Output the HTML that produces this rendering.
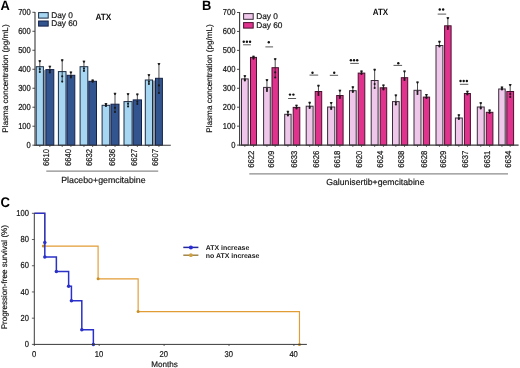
<!DOCTYPE html>
<html><head><meta charset="utf-8"><title>Figure</title>
<style>
html,body{margin:0;padding:0;background:#fff;}
body{width:520px;height:368px;overflow:hidden;}
svg{display:block;font-family:"Liberation Sans", sans-serif;will-change:transform;text-rendering:geometricPrecision;}
</style></head>
<body>
<svg width="520" height="368" viewBox="0 0 520 368">
<rect x="0" y="0" width="520" height="368" fill="#fff"/>
<text font-size="12.9" text-anchor="start" font-weight="bold" fill="#000" transform="translate(0.50 9.90) scale(1.0 1.05)">A</text>
<text font-size="12.9" text-anchor="start" font-weight="bold" fill="#000" transform="translate(202.00 9.90) scale(1.0 1.05)">B</text>
<text font-size="13.1" text-anchor="start" font-weight="bold" fill="#000" transform="translate(0.50 207.40) scale(1.0 1.07)">C</text>
<line x1="32.40" y1="145.20" x2="35.00" y2="145.20" stroke="#3a3a3a" stroke-width="0.9"/>
<text font-size="7.6" text-anchor="end" fill="#151515" stroke="#151515" stroke-width="0.18" transform="translate(30.80 147.90) scale(1.0 1.15)">0</text>
<line x1="32.40" y1="126.21" x2="35.00" y2="126.21" stroke="#3a3a3a" stroke-width="0.9"/>
<text font-size="7.6" text-anchor="end" fill="#151515" stroke="#151515" stroke-width="0.18" transform="translate(30.80 128.91) scale(1.0 1.15)">100</text>
<line x1="32.40" y1="107.23" x2="35.00" y2="107.23" stroke="#3a3a3a" stroke-width="0.9"/>
<text font-size="7.6" text-anchor="end" fill="#151515" stroke="#151515" stroke-width="0.18" transform="translate(30.80 109.93) scale(1.0 1.15)">200</text>
<line x1="32.40" y1="88.24" x2="35.00" y2="88.24" stroke="#3a3a3a" stroke-width="0.9"/>
<text font-size="7.6" text-anchor="end" fill="#151515" stroke="#151515" stroke-width="0.18" transform="translate(30.80 90.94) scale(1.0 1.15)">300</text>
<line x1="32.40" y1="69.26" x2="35.00" y2="69.26" stroke="#3a3a3a" stroke-width="0.9"/>
<text font-size="7.6" text-anchor="end" fill="#151515" stroke="#151515" stroke-width="0.18" transform="translate(30.80 71.96) scale(1.0 1.15)">400</text>
<line x1="32.40" y1="50.27" x2="35.00" y2="50.27" stroke="#3a3a3a" stroke-width="0.9"/>
<text font-size="7.6" text-anchor="end" fill="#151515" stroke="#151515" stroke-width="0.18" transform="translate(30.80 52.97) scale(1.0 1.15)">500</text>
<line x1="32.40" y1="31.29" x2="35.00" y2="31.29" stroke="#3a3a3a" stroke-width="0.9"/>
<text font-size="7.6" text-anchor="end" fill="#151515" stroke="#151515" stroke-width="0.18" transform="translate(30.80 33.99) scale(1.0 1.15)">600</text>
<line x1="32.40" y1="12.30" x2="35.00" y2="12.30" stroke="#3a3a3a" stroke-width="0.9"/>
<text font-size="7.6" text-anchor="end" fill="#151515" stroke="#151515" stroke-width="0.18" transform="translate(30.80 15.00) scale(1.0 1.15)">700</text>
<rect x="43.90" y="70.10" width="1.50" height="75.10" fill="#8a979e"/>
<rect x="36.20" y="66.70" width="7.20" height="78.50" fill="#a6d6f2" stroke="#1c2c44" stroke-width="1.0"/>
<rect x="45.90" y="69.60" width="7.90" height="75.60" fill="#33558f" stroke="#14224a" stroke-width="1.0"/>
<line x1="39.80" y1="60.70" x2="39.80" y2="72.00" stroke="#222" stroke-width="0.8"/>
<line x1="38.50" y1="60.70" x2="41.10" y2="60.70" stroke="#222" stroke-width="0.8"/>
<circle cx="39.80" cy="61.30" r="1.05" fill="#1a1a1a"/>
<circle cx="39.80" cy="69.10" r="1.05" fill="#1a1a1a"/>
<circle cx="39.80" cy="72.00" r="1.05" fill="#1a1a1a"/>
<line x1="39.80" y1="145.20" x2="39.80" y2="147.00" stroke="#3a3a3a" stroke-width="0.8"/>
<line x1="49.85" y1="66.20" x2="49.85" y2="72.50" stroke="#222" stroke-width="0.8"/>
<line x1="48.55" y1="66.20" x2="51.15" y2="66.20" stroke="#222" stroke-width="0.8"/>
<circle cx="49.85" cy="66.80" r="1.05" fill="#1a1a1a"/>
<circle cx="49.85" cy="70.80" r="1.05" fill="#1a1a1a"/>
<circle cx="49.85" cy="72.50" r="1.05" fill="#1a1a1a"/>
<line x1="49.85" y1="145.20" x2="49.85" y2="147.00" stroke="#3a3a3a" stroke-width="0.8"/>
<text font-size="7.7" text-anchor="end" fill="#151515" stroke="#151515" stroke-width="0.18" transform="translate(48.70 148.90) rotate(-90) scale(1.0 1.1)">6610</text>
<rect x="66.50" y="75.80" width="0.00" height="69.40" fill="#8a979e"/>
<rect x="58.40" y="71.60" width="7.60" height="73.60" fill="#a6d6f2" stroke="#1c2c44" stroke-width="1.0"/>
<rect x="67.00" y="75.30" width="7.80" height="69.90" fill="#33558f" stroke="#14224a" stroke-width="1.0"/>
<line x1="62.20" y1="59.80" x2="62.20" y2="81.60" stroke="#222" stroke-width="0.8"/>
<line x1="60.90" y1="59.80" x2="63.50" y2="59.80" stroke="#222" stroke-width="0.8"/>
<circle cx="62.20" cy="60.40" r="1.05" fill="#1a1a1a"/>
<circle cx="62.20" cy="76.35" r="1.05" fill="#1a1a1a"/>
<circle cx="62.20" cy="81.60" r="1.05" fill="#1a1a1a"/>
<line x1="62.20" y1="145.20" x2="62.20" y2="147.00" stroke="#3a3a3a" stroke-width="0.8"/>
<line x1="70.90" y1="72.00" x2="70.90" y2="77.50" stroke="#222" stroke-width="0.8"/>
<line x1="69.60" y1="72.00" x2="72.20" y2="72.00" stroke="#222" stroke-width="0.8"/>
<circle cx="70.90" cy="72.60" r="1.05" fill="#1a1a1a"/>
<circle cx="70.90" cy="76.15" r="1.05" fill="#1a1a1a"/>
<circle cx="70.90" cy="77.50" r="1.05" fill="#1a1a1a"/>
<line x1="70.90" y1="145.20" x2="70.90" y2="147.00" stroke="#3a3a3a" stroke-width="0.8"/>
<text font-size="7.7" text-anchor="end" fill="#151515" stroke="#151515" stroke-width="0.18" transform="translate(71.30 148.90) rotate(-90) scale(1.0 1.1)">6640</text>
<rect x="88.30" y="81.80" width="0.00" height="63.40" fill="#8a979e"/>
<rect x="80.10" y="66.70" width="7.70" height="78.50" fill="#a6d6f2" stroke="#1c2c44" stroke-width="1.0"/>
<rect x="88.80" y="81.30" width="7.70" height="63.90" fill="#33558f" stroke="#14224a" stroke-width="1.0"/>
<line x1="83.95" y1="61.10" x2="83.95" y2="70.90" stroke="#222" stroke-width="0.8"/>
<line x1="82.65" y1="61.10" x2="85.25" y2="61.10" stroke="#222" stroke-width="0.8"/>
<circle cx="83.95" cy="61.70" r="1.05" fill="#1a1a1a"/>
<circle cx="83.95" cy="68.55" r="1.05" fill="#1a1a1a"/>
<circle cx="83.95" cy="70.90" r="1.05" fill="#1a1a1a"/>
<line x1="83.95" y1="145.20" x2="83.95" y2="147.00" stroke="#3a3a3a" stroke-width="0.8"/>
<line x1="92.65" y1="80.00" x2="92.65" y2="81.80" stroke="#222" stroke-width="0.8"/>
<line x1="91.35" y1="80.00" x2="93.95" y2="80.00" stroke="#222" stroke-width="0.8"/>
<circle cx="92.65" cy="80.60" r="1.05" fill="#1a1a1a"/>
<circle cx="92.65" cy="81.30" r="1.05" fill="#1a1a1a"/>
<circle cx="92.65" cy="81.80" r="1.05" fill="#1a1a1a"/>
<line x1="92.65" y1="145.20" x2="92.65" y2="147.00" stroke="#3a3a3a" stroke-width="0.8"/>
<text font-size="7.7" text-anchor="end" fill="#151515" stroke="#151515" stroke-width="0.18" transform="translate(92.30 148.90) rotate(-90) scale(1.0 1.1)">6632</text>
<rect x="110.30" y="105.80" width="0.20" height="39.40" fill="#8a979e"/>
<rect x="102.10" y="105.30" width="7.70" height="39.90" fill="#a6d6f2" stroke="#1c2c44" stroke-width="1.0"/>
<rect x="111.00" y="104.20" width="8.00" height="41.00" fill="#33558f" stroke="#14224a" stroke-width="1.0"/>
<line x1="105.95" y1="103.50" x2="105.95" y2="106.00" stroke="#222" stroke-width="0.8"/>
<line x1="104.65" y1="103.50" x2="107.25" y2="103.50" stroke="#222" stroke-width="0.8"/>
<circle cx="105.95" cy="104.10" r="1.05" fill="#1a1a1a"/>
<circle cx="105.95" cy="105.40" r="1.05" fill="#1a1a1a"/>
<circle cx="105.95" cy="106.00" r="1.05" fill="#1a1a1a"/>
<line x1="105.95" y1="145.20" x2="105.95" y2="147.00" stroke="#3a3a3a" stroke-width="0.8"/>
<line x1="115.00" y1="93.30" x2="115.00" y2="112.00" stroke="#222" stroke-width="0.8"/>
<line x1="113.70" y1="93.30" x2="116.30" y2="93.30" stroke="#222" stroke-width="0.8"/>
<circle cx="115.00" cy="93.90" r="1.05" fill="#1a1a1a"/>
<circle cx="115.00" cy="107.85" r="1.05" fill="#1a1a1a"/>
<circle cx="115.00" cy="112.00" r="1.05" fill="#1a1a1a"/>
<line x1="115.00" y1="145.20" x2="115.00" y2="147.00" stroke="#3a3a3a" stroke-width="0.8"/>
<text font-size="7.7" text-anchor="end" fill="#151515" stroke="#151515" stroke-width="0.18" transform="translate(115.40 148.90) rotate(-90) scale(1.0 1.1)">6636</text>
<rect x="132.60" y="102.10" width="0.10" height="43.10" fill="#8a979e"/>
<rect x="124.00" y="101.60" width="8.10" height="43.60" fill="#a6d6f2" stroke="#1c2c44" stroke-width="1.0"/>
<rect x="133.20" y="99.90" width="8.30" height="45.30" fill="#33558f" stroke="#14224a" stroke-width="1.0"/>
<line x1="128.05" y1="93.60" x2="128.05" y2="106.50" stroke="#222" stroke-width="0.8"/>
<line x1="126.75" y1="93.60" x2="129.35" y2="93.60" stroke="#222" stroke-width="0.8"/>
<circle cx="128.05" cy="94.20" r="1.05" fill="#1a1a1a"/>
<circle cx="128.05" cy="103.80" r="1.05" fill="#1a1a1a"/>
<circle cx="128.05" cy="106.50" r="1.05" fill="#1a1a1a"/>
<line x1="128.05" y1="145.20" x2="128.05" y2="147.00" stroke="#3a3a3a" stroke-width="0.8"/>
<line x1="137.35" y1="94.00" x2="137.35" y2="104.00" stroke="#222" stroke-width="0.8"/>
<line x1="136.05" y1="94.00" x2="138.65" y2="94.00" stroke="#222" stroke-width="0.8"/>
<circle cx="137.35" cy="94.60" r="1.05" fill="#1a1a1a"/>
<circle cx="137.35" cy="101.70" r="1.05" fill="#1a1a1a"/>
<circle cx="137.35" cy="104.00" r="1.05" fill="#1a1a1a"/>
<line x1="137.35" y1="145.20" x2="137.35" y2="147.00" stroke="#3a3a3a" stroke-width="0.8"/>
<text font-size="7.7" text-anchor="end" fill="#151515" stroke="#151515" stroke-width="0.18" transform="translate(136.80 148.90) rotate(-90) scale(1.0 1.1)">6627</text>
<rect x="153.00" y="80.50" width="2.00" height="64.70" fill="#8a979e"/>
<rect x="145.30" y="80.00" width="7.20" height="65.20" fill="#a6d6f2" stroke="#1c2c44" stroke-width="1.0"/>
<rect x="155.50" y="78.30" width="6.90" height="66.90" fill="#33558f" stroke="#14224a" stroke-width="1.0"/>
<line x1="148.90" y1="74.60" x2="148.90" y2="84.00" stroke="#222" stroke-width="0.8"/>
<line x1="147.60" y1="74.60" x2="150.20" y2="74.60" stroke="#222" stroke-width="0.8"/>
<circle cx="148.90" cy="75.20" r="1.05" fill="#1a1a1a"/>
<circle cx="148.90" cy="81.75" r="1.05" fill="#1a1a1a"/>
<circle cx="148.90" cy="84.00" r="1.05" fill="#1a1a1a"/>
<line x1="148.90" y1="145.20" x2="148.90" y2="147.00" stroke="#3a3a3a" stroke-width="0.8"/>
<line x1="158.95" y1="63.50" x2="158.95" y2="93.00" stroke="#222" stroke-width="0.8"/>
<line x1="157.65" y1="63.50" x2="160.25" y2="63.50" stroke="#222" stroke-width="0.8"/>
<circle cx="158.95" cy="64.10" r="1.05" fill="#1a1a1a"/>
<circle cx="158.95" cy="85.40" r="1.05" fill="#1a1a1a"/>
<circle cx="158.95" cy="93.00" r="1.05" fill="#1a1a1a"/>
<line x1="158.95" y1="145.20" x2="158.95" y2="147.00" stroke="#3a3a3a" stroke-width="0.8"/>
<text font-size="7.7" text-anchor="end" fill="#151515" stroke="#151515" stroke-width="0.18" transform="translate(158.10 148.90) rotate(-90) scale(1.0 1.1)">6607</text>
<line x1="35.00" y1="11.90" x2="35.00" y2="145.70" stroke="#3a3a3a" stroke-width="1.1"/>
<line x1="34.50" y1="145.20" x2="170.80" y2="145.20" stroke="#3a3a3a" stroke-width="1.1"/>
<line x1="237.00" y1="145.10" x2="239.60" y2="145.10" stroke="#3a3a3a" stroke-width="0.9"/>
<text font-size="7.6" text-anchor="end" fill="#151515" stroke="#151515" stroke-width="0.18" transform="translate(235.40 147.80) scale(1.0 1.15)">0</text>
<line x1="237.00" y1="126.16" x2="239.60" y2="126.16" stroke="#3a3a3a" stroke-width="0.9"/>
<text font-size="7.6" text-anchor="end" fill="#151515" stroke="#151515" stroke-width="0.18" transform="translate(235.40 128.86) scale(1.0 1.15)">100</text>
<line x1="237.00" y1="107.21" x2="239.60" y2="107.21" stroke="#3a3a3a" stroke-width="0.9"/>
<text font-size="7.6" text-anchor="end" fill="#151515" stroke="#151515" stroke-width="0.18" transform="translate(235.40 109.91) scale(1.0 1.15)">200</text>
<line x1="237.00" y1="88.27" x2="239.60" y2="88.27" stroke="#3a3a3a" stroke-width="0.9"/>
<text font-size="7.6" text-anchor="end" fill="#151515" stroke="#151515" stroke-width="0.18" transform="translate(235.40 90.97) scale(1.0 1.15)">300</text>
<line x1="237.00" y1="69.33" x2="239.60" y2="69.33" stroke="#3a3a3a" stroke-width="0.9"/>
<text font-size="7.6" text-anchor="end" fill="#151515" stroke="#151515" stroke-width="0.18" transform="translate(235.40 72.03) scale(1.0 1.15)">400</text>
<line x1="237.00" y1="50.39" x2="239.60" y2="50.39" stroke="#3a3a3a" stroke-width="0.9"/>
<text font-size="7.6" text-anchor="end" fill="#151515" stroke="#151515" stroke-width="0.18" transform="translate(235.40 53.09) scale(1.0 1.15)">500</text>
<line x1="237.00" y1="31.44" x2="239.60" y2="31.44" stroke="#3a3a3a" stroke-width="0.9"/>
<text font-size="7.6" text-anchor="end" fill="#151515" stroke="#151515" stroke-width="0.18" transform="translate(235.40 34.14) scale(1.0 1.15)">600</text>
<line x1="237.00" y1="12.50" x2="239.60" y2="12.50" stroke="#3a3a3a" stroke-width="0.9"/>
<text font-size="7.6" text-anchor="end" fill="#151515" stroke="#151515" stroke-width="0.18" transform="translate(235.40 15.20) scale(1.0 1.15)">700</text>
<rect x="241.50" y="78.90" width="6.70" height="66.20" fill="#efc7ea" stroke="#3a2c3a" stroke-width="1.0"/>
<rect x="250.50" y="57.40" width="6.00" height="87.70" fill="#df338e" stroke="#4a1030" stroke-width="1.0"/>
<line x1="244.85" y1="75.60" x2="244.85" y2="80.50" stroke="#222" stroke-width="0.8"/>
<line x1="243.55" y1="75.60" x2="246.15" y2="75.60" stroke="#222" stroke-width="0.8"/>
<circle cx="244.85" cy="76.20" r="1.05" fill="#1a1a1a"/>
<circle cx="244.85" cy="79.45" r="1.05" fill="#1a1a1a"/>
<circle cx="244.85" cy="80.50" r="1.05" fill="#1a1a1a"/>
<line x1="244.85" y1="145.10" x2="244.85" y2="146.90" stroke="#3a3a3a" stroke-width="0.8"/>
<line x1="253.50" y1="56.20" x2="253.50" y2="58.80" stroke="#222" stroke-width="0.8"/>
<line x1="252.20" y1="56.20" x2="254.80" y2="56.20" stroke="#222" stroke-width="0.8"/>
<circle cx="253.50" cy="56.80" r="1.05" fill="#1a1a1a"/>
<circle cx="253.50" cy="57.85" r="1.05" fill="#1a1a1a"/>
<circle cx="253.50" cy="58.80" r="1.05" fill="#1a1a1a"/>
<line x1="253.50" y1="145.10" x2="253.50" y2="146.90" stroke="#3a3a3a" stroke-width="0.8"/>
<text font-size="7.7" text-anchor="end" fill="#151515" stroke="#151515" stroke-width="0.18" transform="translate(253.60 150.60) rotate(-90) scale(1.0 1.1)">6622</text>
<rect x="263.60" y="87.40" width="6.70" height="57.70" fill="#efc7ea" stroke="#3a2c3a" stroke-width="1.0"/>
<rect x="272.00" y="67.70" width="6.40" height="77.40" fill="#df338e" stroke="#4a1030" stroke-width="1.0"/>
<line x1="266.95" y1="79.60" x2="266.95" y2="91.00" stroke="#222" stroke-width="0.8"/>
<line x1="265.65" y1="79.60" x2="268.25" y2="79.60" stroke="#222" stroke-width="0.8"/>
<circle cx="266.95" cy="80.20" r="1.05" fill="#1a1a1a"/>
<circle cx="266.95" cy="88.95" r="1.05" fill="#1a1a1a"/>
<circle cx="266.95" cy="91.00" r="1.05" fill="#1a1a1a"/>
<line x1="266.95" y1="145.10" x2="266.95" y2="146.90" stroke="#3a3a3a" stroke-width="0.8"/>
<line x1="275.20" y1="58.70" x2="275.20" y2="77.50" stroke="#222" stroke-width="0.8"/>
<line x1="273.90" y1="58.70" x2="276.50" y2="58.70" stroke="#222" stroke-width="0.8"/>
<circle cx="275.20" cy="59.30" r="1.05" fill="#1a1a1a"/>
<circle cx="275.20" cy="72.35" r="1.05" fill="#1a1a1a"/>
<circle cx="275.20" cy="77.50" r="1.05" fill="#1a1a1a"/>
<line x1="275.20" y1="145.10" x2="275.20" y2="146.90" stroke="#3a3a3a" stroke-width="0.8"/>
<text font-size="7.7" text-anchor="end" fill="#151515" stroke="#151515" stroke-width="0.18" transform="translate(273.60 150.60) rotate(-90) scale(1.0 1.1)">6609</text>
<rect x="284.70" y="114.30" width="6.40" height="30.80" fill="#efc7ea" stroke="#3a2c3a" stroke-width="1.0"/>
<rect x="293.20" y="107.40" width="6.60" height="37.70" fill="#df338e" stroke="#4a1030" stroke-width="1.0"/>
<line x1="287.90" y1="111.30" x2="287.90" y2="115.50" stroke="#222" stroke-width="0.8"/>
<line x1="286.60" y1="111.30" x2="289.20" y2="111.30" stroke="#222" stroke-width="0.8"/>
<circle cx="287.90" cy="111.90" r="1.05" fill="#1a1a1a"/>
<circle cx="287.90" cy="114.65" r="1.05" fill="#1a1a1a"/>
<circle cx="287.90" cy="115.50" r="1.05" fill="#1a1a1a"/>
<line x1="287.90" y1="145.10" x2="287.90" y2="146.90" stroke="#3a3a3a" stroke-width="0.8"/>
<line x1="296.50" y1="105.20" x2="296.50" y2="108.50" stroke="#222" stroke-width="0.8"/>
<line x1="295.20" y1="105.20" x2="297.80" y2="105.20" stroke="#222" stroke-width="0.8"/>
<circle cx="296.50" cy="105.80" r="1.05" fill="#1a1a1a"/>
<circle cx="296.50" cy="107.70" r="1.05" fill="#1a1a1a"/>
<circle cx="296.50" cy="108.50" r="1.05" fill="#1a1a1a"/>
<line x1="296.50" y1="145.10" x2="296.50" y2="146.90" stroke="#3a3a3a" stroke-width="0.8"/>
<text font-size="7.7" text-anchor="end" fill="#151515" stroke="#151515" stroke-width="0.18" transform="translate(297.20 150.60) rotate(-90) scale(1.0 1.1)">6633</text>
<rect x="306.20" y="106.20" width="6.90" height="38.90" fill="#efc7ea" stroke="#3a2c3a" stroke-width="1.0"/>
<rect x="315.20" y="91.50" width="6.50" height="53.60" fill="#df338e" stroke="#4a1030" stroke-width="1.0"/>
<line x1="309.65" y1="102.30" x2="309.65" y2="108.00" stroke="#222" stroke-width="0.8"/>
<line x1="308.35" y1="102.30" x2="310.95" y2="102.30" stroke="#222" stroke-width="0.8"/>
<circle cx="309.65" cy="102.90" r="1.05" fill="#1a1a1a"/>
<circle cx="309.65" cy="106.85" r="1.05" fill="#1a1a1a"/>
<circle cx="309.65" cy="108.00" r="1.05" fill="#1a1a1a"/>
<line x1="309.65" y1="145.10" x2="309.65" y2="146.90" stroke="#3a3a3a" stroke-width="0.8"/>
<line x1="318.45" y1="85.30" x2="318.45" y2="95.00" stroke="#222" stroke-width="0.8"/>
<line x1="317.15" y1="85.30" x2="319.75" y2="85.30" stroke="#222" stroke-width="0.8"/>
<circle cx="318.45" cy="85.90" r="1.05" fill="#1a1a1a"/>
<circle cx="318.45" cy="93.00" r="1.05" fill="#1a1a1a"/>
<circle cx="318.45" cy="95.00" r="1.05" fill="#1a1a1a"/>
<line x1="318.45" y1="145.10" x2="318.45" y2="146.90" stroke="#3a3a3a" stroke-width="0.8"/>
<text font-size="7.7" text-anchor="end" fill="#151515" stroke="#151515" stroke-width="0.18" transform="translate(318.90 150.60) rotate(-90) scale(1.0 1.1)">6626</text>
<rect x="327.60" y="107.00" width="7.20" height="38.10" fill="#efc7ea" stroke="#3a2c3a" stroke-width="1.0"/>
<rect x="336.70" y="95.50" width="6.40" height="49.60" fill="#df338e" stroke="#4a1030" stroke-width="1.0"/>
<line x1="331.20" y1="102.50" x2="331.20" y2="109.00" stroke="#222" stroke-width="0.8"/>
<line x1="329.90" y1="102.50" x2="332.50" y2="102.50" stroke="#222" stroke-width="0.8"/>
<circle cx="331.20" cy="103.10" r="1.05" fill="#1a1a1a"/>
<circle cx="331.20" cy="107.75" r="1.05" fill="#1a1a1a"/>
<circle cx="331.20" cy="109.00" r="1.05" fill="#1a1a1a"/>
<line x1="331.20" y1="145.10" x2="331.20" y2="146.90" stroke="#3a3a3a" stroke-width="0.8"/>
<line x1="339.90" y1="90.20" x2="339.90" y2="98.00" stroke="#222" stroke-width="0.8"/>
<line x1="338.60" y1="90.20" x2="341.20" y2="90.20" stroke="#222" stroke-width="0.8"/>
<circle cx="339.90" cy="90.80" r="1.05" fill="#1a1a1a"/>
<circle cx="339.90" cy="96.50" r="1.05" fill="#1a1a1a"/>
<circle cx="339.90" cy="98.00" r="1.05" fill="#1a1a1a"/>
<line x1="339.90" y1="145.10" x2="339.90" y2="146.90" stroke="#3a3a3a" stroke-width="0.8"/>
<text font-size="7.7" text-anchor="end" fill="#151515" stroke="#151515" stroke-width="0.18" transform="translate(339.60 150.60) rotate(-90) scale(1.0 1.1)">6618</text>
<rect x="349.50" y="90.70" width="6.70" height="54.40" fill="#efc7ea" stroke="#3a2c3a" stroke-width="1.0"/>
<rect x="358.20" y="73.10" width="6.60" height="72.00" fill="#df338e" stroke="#4a1030" stroke-width="1.0"/>
<line x1="352.85" y1="86.80" x2="352.85" y2="92.00" stroke="#222" stroke-width="0.8"/>
<line x1="351.55" y1="86.80" x2="354.15" y2="86.80" stroke="#222" stroke-width="0.8"/>
<circle cx="352.85" cy="87.40" r="1.05" fill="#1a1a1a"/>
<circle cx="352.85" cy="91.10" r="1.05" fill="#1a1a1a"/>
<circle cx="352.85" cy="92.00" r="1.05" fill="#1a1a1a"/>
<line x1="352.85" y1="145.10" x2="352.85" y2="146.90" stroke="#3a3a3a" stroke-width="0.8"/>
<line x1="361.50" y1="71.00" x2="361.50" y2="74.00" stroke="#222" stroke-width="0.8"/>
<line x1="360.20" y1="71.00" x2="362.80" y2="71.00" stroke="#222" stroke-width="0.8"/>
<circle cx="361.50" cy="71.60" r="1.05" fill="#1a1a1a"/>
<circle cx="361.50" cy="73.30" r="1.05" fill="#1a1a1a"/>
<circle cx="361.50" cy="74.00" r="1.05" fill="#1a1a1a"/>
<line x1="361.50" y1="145.10" x2="361.50" y2="146.90" stroke="#3a3a3a" stroke-width="0.8"/>
<text font-size="7.7" text-anchor="end" fill="#151515" stroke="#151515" stroke-width="0.18" transform="translate(361.90 150.60) rotate(-90) scale(1.0 1.1)">6620</text>
<rect x="371.20" y="80.50" width="6.90" height="64.60" fill="#efc7ea" stroke="#3a2c3a" stroke-width="1.0"/>
<rect x="380.20" y="87.80" width="6.50" height="57.30" fill="#df338e" stroke="#4a1030" stroke-width="1.0"/>
<line x1="374.65" y1="69.30" x2="374.65" y2="88.00" stroke="#222" stroke-width="0.8"/>
<line x1="373.35" y1="69.30" x2="375.95" y2="69.30" stroke="#222" stroke-width="0.8"/>
<circle cx="374.65" cy="69.90" r="1.05" fill="#1a1a1a"/>
<circle cx="374.65" cy="84.00" r="1.05" fill="#1a1a1a"/>
<circle cx="374.65" cy="88.00" r="1.05" fill="#1a1a1a"/>
<line x1="374.65" y1="145.10" x2="374.65" y2="146.90" stroke="#3a3a3a" stroke-width="0.8"/>
<line x1="383.45" y1="85.00" x2="383.45" y2="89.50" stroke="#222" stroke-width="0.8"/>
<line x1="382.15" y1="85.00" x2="384.75" y2="85.00" stroke="#222" stroke-width="0.8"/>
<circle cx="383.45" cy="85.60" r="1.05" fill="#1a1a1a"/>
<circle cx="383.45" cy="88.40" r="1.05" fill="#1a1a1a"/>
<circle cx="383.45" cy="89.50" r="1.05" fill="#1a1a1a"/>
<line x1="383.45" y1="145.10" x2="383.45" y2="146.90" stroke="#3a3a3a" stroke-width="0.8"/>
<text font-size="7.7" text-anchor="end" fill="#151515" stroke="#151515" stroke-width="0.18" transform="translate(383.30 150.60) rotate(-90) scale(1.0 1.1)">6624</text>
<rect x="392.50" y="101.60" width="6.70" height="43.50" fill="#efc7ea" stroke="#3a2c3a" stroke-width="1.0"/>
<rect x="401.30" y="77.70" width="6.40" height="67.40" fill="#df338e" stroke="#4a1030" stroke-width="1.0"/>
<line x1="395.85" y1="94.90" x2="395.85" y2="104.50" stroke="#222" stroke-width="0.8"/>
<line x1="394.55" y1="94.90" x2="397.15" y2="94.90" stroke="#222" stroke-width="0.8"/>
<circle cx="395.85" cy="95.50" r="1.05" fill="#1a1a1a"/>
<circle cx="395.85" cy="102.80" r="1.05" fill="#1a1a1a"/>
<circle cx="395.85" cy="104.50" r="1.05" fill="#1a1a1a"/>
<line x1="395.85" y1="145.10" x2="395.85" y2="146.90" stroke="#3a3a3a" stroke-width="0.8"/>
<line x1="404.50" y1="71.00" x2="404.50" y2="80.00" stroke="#222" stroke-width="0.8"/>
<line x1="403.20" y1="71.00" x2="405.80" y2="71.00" stroke="#222" stroke-width="0.8"/>
<circle cx="404.50" cy="71.60" r="1.05" fill="#1a1a1a"/>
<circle cx="404.50" cy="78.60" r="1.05" fill="#1a1a1a"/>
<circle cx="404.50" cy="80.00" r="1.05" fill="#1a1a1a"/>
<line x1="404.50" y1="145.10" x2="404.50" y2="146.90" stroke="#3a3a3a" stroke-width="0.8"/>
<text font-size="7.7" text-anchor="end" fill="#151515" stroke="#151515" stroke-width="0.18" transform="translate(404.10 150.60) rotate(-90) scale(1.0 1.1)">6638</text>
<rect x="414.00" y="90.30" width="7.00" height="54.80" fill="#efc7ea" stroke="#3a2c3a" stroke-width="1.0"/>
<rect x="423.30" y="97.10" width="6.30" height="48.00" fill="#df338e" stroke="#4a1030" stroke-width="1.0"/>
<line x1="417.50" y1="82.00" x2="417.50" y2="94.00" stroke="#222" stroke-width="0.8"/>
<line x1="416.20" y1="82.00" x2="418.80" y2="82.00" stroke="#222" stroke-width="0.8"/>
<circle cx="417.50" cy="82.60" r="1.05" fill="#1a1a1a"/>
<circle cx="417.50" cy="91.90" r="1.05" fill="#1a1a1a"/>
<circle cx="417.50" cy="94.00" r="1.05" fill="#1a1a1a"/>
<line x1="417.50" y1="145.10" x2="417.50" y2="146.90" stroke="#3a3a3a" stroke-width="0.8"/>
<line x1="426.45" y1="94.50" x2="426.45" y2="98.00" stroke="#222" stroke-width="0.8"/>
<line x1="425.15" y1="94.50" x2="427.75" y2="94.50" stroke="#222" stroke-width="0.8"/>
<circle cx="426.45" cy="95.10" r="1.05" fill="#1a1a1a"/>
<circle cx="426.45" cy="97.30" r="1.05" fill="#1a1a1a"/>
<circle cx="426.45" cy="98.00" r="1.05" fill="#1a1a1a"/>
<line x1="426.45" y1="145.10" x2="426.45" y2="146.90" stroke="#3a3a3a" stroke-width="0.8"/>
<text font-size="7.7" text-anchor="end" fill="#151515" stroke="#151515" stroke-width="0.18" transform="translate(426.60 150.60) rotate(-90) scale(1.0 1.1)">6628</text>
<rect x="436.00" y="45.50" width="6.90" height="99.60" fill="#efc7ea" stroke="#3a2c3a" stroke-width="1.0"/>
<rect x="444.60" y="25.80" width="6.50" height="119.30" fill="#df338e" stroke="#4a1030" stroke-width="1.0"/>
<line x1="439.45" y1="41.30" x2="439.45" y2="46.50" stroke="#222" stroke-width="0.8"/>
<line x1="438.15" y1="41.30" x2="440.75" y2="41.30" stroke="#222" stroke-width="0.8"/>
<circle cx="439.45" cy="41.90" r="1.05" fill="#1a1a1a"/>
<circle cx="439.45" cy="45.75" r="1.05" fill="#1a1a1a"/>
<circle cx="439.45" cy="46.50" r="1.05" fill="#1a1a1a"/>
<line x1="439.45" y1="145.10" x2="439.45" y2="146.90" stroke="#3a3a3a" stroke-width="0.8"/>
<line x1="447.85" y1="17.60" x2="447.85" y2="29.00" stroke="#222" stroke-width="0.8"/>
<line x1="446.55" y1="17.60" x2="449.15" y2="17.60" stroke="#222" stroke-width="0.8"/>
<circle cx="447.85" cy="18.20" r="1.05" fill="#1a1a1a"/>
<circle cx="447.85" cy="27.15" r="1.05" fill="#1a1a1a"/>
<circle cx="447.85" cy="29.00" r="1.05" fill="#1a1a1a"/>
<line x1="447.85" y1="145.10" x2="447.85" y2="146.90" stroke="#3a3a3a" stroke-width="0.8"/>
<text font-size="7.7" text-anchor="end" fill="#151515" stroke="#151515" stroke-width="0.18" transform="translate(446.20 150.60) rotate(-90) scale(1.0 1.1)">6629</text>
<rect x="455.40" y="118.00" width="6.90" height="27.10" fill="#efc7ea" stroke="#3a2c3a" stroke-width="1.0"/>
<rect x="464.40" y="93.50" width="6.00" height="51.60" fill="#df338e" stroke="#4a1030" stroke-width="1.0"/>
<line x1="458.85" y1="114.80" x2="458.85" y2="119.00" stroke="#222" stroke-width="0.8"/>
<line x1="457.55" y1="114.80" x2="460.15" y2="114.80" stroke="#222" stroke-width="0.8"/>
<circle cx="458.85" cy="115.40" r="1.05" fill="#1a1a1a"/>
<circle cx="458.85" cy="118.25" r="1.05" fill="#1a1a1a"/>
<circle cx="458.85" cy="119.00" r="1.05" fill="#1a1a1a"/>
<line x1="458.85" y1="145.10" x2="458.85" y2="146.90" stroke="#3a3a3a" stroke-width="0.8"/>
<line x1="467.40" y1="91.20" x2="467.40" y2="94.50" stroke="#222" stroke-width="0.8"/>
<line x1="466.10" y1="91.20" x2="468.70" y2="91.20" stroke="#222" stroke-width="0.8"/>
<circle cx="467.40" cy="91.80" r="1.05" fill="#1a1a1a"/>
<circle cx="467.40" cy="93.75" r="1.05" fill="#1a1a1a"/>
<circle cx="467.40" cy="94.50" r="1.05" fill="#1a1a1a"/>
<line x1="467.40" y1="145.10" x2="467.40" y2="146.90" stroke="#3a3a3a" stroke-width="0.8"/>
<text font-size="7.7" text-anchor="end" fill="#151515" stroke="#151515" stroke-width="0.18" transform="translate(468.15 150.60) rotate(-90) scale(1.0 1.1)">6637</text>
<rect x="477.30" y="107.00" width="6.90" height="38.10" fill="#efc7ea" stroke="#3a2c3a" stroke-width="1.0"/>
<rect x="486.30" y="112.30" width="6.60" height="32.80" fill="#df338e" stroke="#4a1030" stroke-width="1.0"/>
<line x1="480.75" y1="102.70" x2="480.75" y2="108.50" stroke="#222" stroke-width="0.8"/>
<line x1="479.45" y1="102.70" x2="482.05" y2="102.70" stroke="#222" stroke-width="0.8"/>
<circle cx="480.75" cy="103.30" r="1.05" fill="#1a1a1a"/>
<circle cx="480.75" cy="107.50" r="1.05" fill="#1a1a1a"/>
<circle cx="480.75" cy="108.50" r="1.05" fill="#1a1a1a"/>
<line x1="480.75" y1="145.10" x2="480.75" y2="146.90" stroke="#3a3a3a" stroke-width="0.8"/>
<line x1="489.60" y1="110.00" x2="489.60" y2="113.00" stroke="#222" stroke-width="0.8"/>
<line x1="488.30" y1="110.00" x2="490.90" y2="110.00" stroke="#222" stroke-width="0.8"/>
<circle cx="489.60" cy="110.60" r="1.05" fill="#1a1a1a"/>
<circle cx="489.60" cy="112.40" r="1.05" fill="#1a1a1a"/>
<circle cx="489.60" cy="113.00" r="1.05" fill="#1a1a1a"/>
<line x1="489.60" y1="145.10" x2="489.60" y2="146.90" stroke="#3a3a3a" stroke-width="0.8"/>
<text font-size="7.7" text-anchor="end" fill="#151515" stroke="#151515" stroke-width="0.18" transform="translate(489.60 150.60) rotate(-90) scale(1.0 1.1)">6631</text>
<rect x="498.70" y="89.00" width="6.50" height="56.10" fill="#efc7ea" stroke="#3a2c3a" stroke-width="1.0"/>
<rect x="506.80" y="91.50" width="6.80" height="53.60" fill="#df338e" stroke="#4a1030" stroke-width="1.0"/>
<line x1="501.95" y1="87.00" x2="501.95" y2="89.50" stroke="#222" stroke-width="0.8"/>
<line x1="500.65" y1="87.00" x2="503.25" y2="87.00" stroke="#222" stroke-width="0.8"/>
<circle cx="501.95" cy="87.60" r="1.05" fill="#1a1a1a"/>
<circle cx="501.95" cy="89.00" r="1.05" fill="#1a1a1a"/>
<circle cx="501.95" cy="89.50" r="1.05" fill="#1a1a1a"/>
<line x1="501.95" y1="145.10" x2="501.95" y2="146.90" stroke="#3a3a3a" stroke-width="0.8"/>
<line x1="510.20" y1="84.50" x2="510.20" y2="97.00" stroke="#222" stroke-width="0.8"/>
<line x1="508.90" y1="84.50" x2="511.50" y2="84.50" stroke="#222" stroke-width="0.8"/>
<circle cx="510.20" cy="85.10" r="1.05" fill="#1a1a1a"/>
<circle cx="510.20" cy="94.00" r="1.05" fill="#1a1a1a"/>
<circle cx="510.20" cy="97.00" r="1.05" fill="#1a1a1a"/>
<line x1="510.20" y1="145.10" x2="510.20" y2="146.90" stroke="#3a3a3a" stroke-width="0.8"/>
<text font-size="7.7" text-anchor="end" fill="#151515" stroke="#151515" stroke-width="0.18" transform="translate(511.20 150.60) rotate(-90) scale(1.0 1.1)">6634</text>
<line x1="239.60" y1="12.10" x2="239.60" y2="145.60" stroke="#3a3a3a" stroke-width="1.1"/>
<line x1="239.10" y1="145.10" x2="518.60" y2="145.10" stroke="#3a3a3a" stroke-width="1.1"/>
<line x1="243.10" y1="44.80" x2="250.90" y2="44.80" stroke="#5a5a5a" stroke-width="1.0"/>
<circle cx="243.75" cy="41.80" r="1.2" fill="#111"/>
<circle cx="246.90" cy="41.80" r="1.2" fill="#111"/>
<circle cx="250.05" cy="41.80" r="1.2" fill="#111"/>
<line x1="265.40" y1="46.90" x2="273.10" y2="46.90" stroke="#5a5a5a" stroke-width="1.0"/>
<circle cx="268.80" cy="42.30" r="1.2" fill="#111"/>
<line x1="288.10" y1="98.50" x2="296.10" y2="98.50" stroke="#5a5a5a" stroke-width="1.0"/>
<circle cx="290.00" cy="94.60" r="1.2" fill="#111"/>
<circle cx="293.40" cy="94.60" r="1.2" fill="#111"/>
<line x1="309.50" y1="75.10" x2="318.20" y2="75.10" stroke="#5a5a5a" stroke-width="1.0"/>
<circle cx="312.50" cy="72.70" r="1.2" fill="#111"/>
<line x1="329.80" y1="75.30" x2="338.10" y2="75.30" stroke="#5a5a5a" stroke-width="1.0"/>
<circle cx="334.20" cy="72.70" r="1.2" fill="#111"/>
<line x1="350.20" y1="63.40" x2="358.80" y2="63.40" stroke="#5a5a5a" stroke-width="1.0"/>
<circle cx="350.90" cy="60.20" r="1.2" fill="#111"/>
<circle cx="354.05" cy="60.20" r="1.2" fill="#111"/>
<circle cx="357.20" cy="60.20" r="1.2" fill="#111"/>
<line x1="393.50" y1="65.40" x2="402.10" y2="65.40" stroke="#5a5a5a" stroke-width="1.0"/>
<circle cx="398.30" cy="63.30" r="1.2" fill="#111"/>
<line x1="437.70" y1="14.10" x2="446.20" y2="14.10" stroke="#5a5a5a" stroke-width="1.0"/>
<circle cx="439.75" cy="9.50" r="1.2" fill="#111"/>
<circle cx="443.15" cy="9.50" r="1.2" fill="#111"/>
<line x1="459.90" y1="84.30" x2="468.30" y2="84.30" stroke="#5a5a5a" stroke-width="1.0"/>
<circle cx="460.55" cy="81.00" r="1.2" fill="#111"/>
<circle cx="463.70" cy="81.00" r="1.2" fill="#111"/>
<circle cx="466.85" cy="81.00" r="1.2" fill="#111"/>
<rect x="38.60" y="12.60" width="9.60" height="5.50" fill="#a6d6f2" stroke="#1c2c44" stroke-width="1.0"/>
<rect x="38.60" y="21.00" width="9.60" height="5.10" fill="#33558f" stroke="#14224a" stroke-width="1.0"/>
<text font-size="8.3" text-anchor="start" fill="#151515" stroke="#151515" stroke-width="0.18" transform="translate(51.20 17.95)">Day 0</text>
<text font-size="8.3" text-anchor="start" fill="#151515" stroke="#151515" stroke-width="0.18" transform="translate(51.20 26.35)">Day 60</text>
<rect x="243.60" y="13.60" width="9.60" height="5.70" fill="#efc7ea" stroke="#3a2c3a" stroke-width="1.0"/>
<rect x="243.60" y="22.60" width="9.60" height="5.50" fill="#df338e" stroke="#4a1030" stroke-width="1.0"/>
<text font-size="8.3" text-anchor="start" fill="#151515" stroke="#151515" stroke-width="0.18" transform="translate(256.20 19.30)">Day 0</text>
<text font-size="8.3" text-anchor="start" fill="#151515" stroke="#151515" stroke-width="0.18" transform="translate(256.20 27.70)">Day 60</text>
<text font-size="8.3" text-anchor="start" font-weight="bold" fill="#111" transform="translate(95.40 19.80) scale(1.0 1.1)">ATX</text>
<text font-size="8.0" text-anchor="start" font-weight="bold" fill="#111" transform="translate(372.70 15.10) scale(1.0 1.12)">ATX</text>
<text font-size="8.15" text-anchor="middle" fill="#151515" stroke="#151515" stroke-width="0.18" transform="translate(7.70 78.60) rotate(-90)">Plasma concentration (pg/mL)</text>
<text font-size="8.15" text-anchor="middle" fill="#151515" stroke="#151515" stroke-width="0.18" transform="translate(211.70 78.50) rotate(-90)">Plasma concentration (pg/mL)</text>
<text font-size="8.1" text-anchor="middle" fill="#151515" stroke="#151515" stroke-width="0.18" transform="translate(7.40 277.20) rotate(-90)">Progression-free survival (%)</text>
<line x1="46.30" y1="171.10" x2="158.20" y2="171.10" stroke="#8c8c8c" stroke-width="1.1"/>
<text font-size="8.8" text-anchor="middle" fill="#151515" stroke="#151515" stroke-width="0.18" transform="translate(103.40 182.90)">Placebo+gemcitabine</text>
<line x1="249.30" y1="173.90" x2="508.00" y2="173.90" stroke="#8c8c8c" stroke-width="1.1"/>
<text font-size="8.7" text-anchor="middle" fill="#151515" stroke="#151515" stroke-width="0.18" transform="translate(375.40 184.60)">Galunisertib+gemcitabine</text>
<line x1="31.90" y1="344.40" x2="34.30" y2="344.40" stroke="#3a3a3a" stroke-width="0.8"/>
<text font-size="7.6" text-anchor="end" fill="#151515" stroke="#151515" stroke-width="0.18" transform="translate(28.90 347.10) scale(1.0 1.15)">0</text>
<line x1="31.90" y1="318.18" x2="34.30" y2="318.18" stroke="#3a3a3a" stroke-width="0.8"/>
<text font-size="7.6" text-anchor="end" fill="#151515" stroke="#151515" stroke-width="0.18" transform="translate(28.90 320.88) scale(1.0 1.15)">20</text>
<line x1="31.90" y1="291.96" x2="34.30" y2="291.96" stroke="#3a3a3a" stroke-width="0.8"/>
<text font-size="7.6" text-anchor="end" fill="#151515" stroke="#151515" stroke-width="0.18" transform="translate(28.90 294.66) scale(1.0 1.15)">40</text>
<line x1="31.90" y1="265.74" x2="34.30" y2="265.74" stroke="#3a3a3a" stroke-width="0.8"/>
<text font-size="7.6" text-anchor="end" fill="#151515" stroke="#151515" stroke-width="0.18" transform="translate(28.90 268.44) scale(1.0 1.15)">60</text>
<line x1="31.90" y1="239.52" x2="34.30" y2="239.52" stroke="#3a3a3a" stroke-width="0.8"/>
<text font-size="7.6" text-anchor="end" fill="#151515" stroke="#151515" stroke-width="0.18" transform="translate(28.90 242.22) scale(1.0 1.15)">80</text>
<line x1="31.90" y1="213.30" x2="34.30" y2="213.30" stroke="#3a3a3a" stroke-width="0.8"/>
<text font-size="7.6" text-anchor="end" fill="#151515" stroke="#151515" stroke-width="0.18" transform="translate(28.90 216.00) scale(1.0 1.15)">100</text>
<line x1="34.30" y1="344.40" x2="34.30" y2="346.00" stroke="#3a3a3a" stroke-width="0.8"/>
<text font-size="7.6" text-anchor="middle" fill="#151515" stroke="#151515" stroke-width="0.18" transform="translate(34.00 356.60) scale(1.0 1.12)">0</text>
<line x1="99.20" y1="344.40" x2="99.20" y2="346.00" stroke="#3a3a3a" stroke-width="0.8"/>
<text font-size="7.6" text-anchor="middle" fill="#151515" stroke="#151515" stroke-width="0.18" transform="translate(98.90 356.60) scale(1.0 1.12)">10</text>
<line x1="164.10" y1="344.40" x2="164.10" y2="346.00" stroke="#3a3a3a" stroke-width="0.8"/>
<text font-size="7.6" text-anchor="middle" fill="#151515" stroke="#151515" stroke-width="0.18" transform="translate(163.80 356.60) scale(1.0 1.12)">20</text>
<line x1="229.00" y1="344.40" x2="229.00" y2="346.00" stroke="#3a3a3a" stroke-width="0.8"/>
<text font-size="7.6" text-anchor="middle" fill="#151515" stroke="#151515" stroke-width="0.18" transform="translate(228.70 356.60) scale(1.0 1.12)">30</text>
<line x1="293.90" y1="344.40" x2="293.90" y2="346.00" stroke="#3a3a3a" stroke-width="0.8"/>
<text font-size="7.6" text-anchor="middle" fill="#151515" stroke="#151515" stroke-width="0.18" transform="translate(293.60 356.60) scale(1.0 1.12)">40</text>
<text font-size="8.1" text-anchor="middle" fill="#151515" stroke="#151515" stroke-width="0.18" transform="translate(164.50 367.00)">Months</text>
<polyline points="34.30,213.30 44.81,213.30 44.81,246.07 43.39,246.07 98.10,246.07 98.10,278.85 138.14,278.85 138.14,311.62 299.48,311.62 299.48,344.40" fill="none" stroke="#e29c34" stroke-width="1.15"/>
<circle cx="43.39" cy="246.07" r="1.5" fill="#c99028"/>
<circle cx="98.10" cy="278.85" r="1.5" fill="#c99028"/>
<circle cx="138.14" cy="311.62" r="1.5" fill="#c99028"/>
<circle cx="299.48" cy="344.40" r="1.5" fill="#c99028"/>
<polyline points="34.30,213.30 44.81,213.30 44.81,256.96 56.37,256.96 56.37,271.51 68.63,271.51 68.63,286.19 71.42,286.19 71.42,300.74 81.81,300.74 81.81,329.85 93.36,329.85 93.36,344.40" fill="none" stroke="#2a30c8" stroke-width="1.5"/>
<circle cx="44.81" cy="242.40" r="1.75" fill="#2a30c8"/>
<circle cx="44.81" cy="256.96" r="1.75" fill="#2a30c8"/>
<circle cx="56.37" cy="271.51" r="1.75" fill="#2a30c8"/>
<circle cx="68.63" cy="286.19" r="1.75" fill="#2a30c8"/>
<circle cx="71.42" cy="300.74" r="1.75" fill="#2a30c8"/>
<circle cx="81.81" cy="329.85" r="1.75" fill="#2a30c8"/>
<circle cx="93.36" cy="344.40" r="1.75" fill="#2a30c8"/>
<line x1="34.30" y1="213.00" x2="34.30" y2="344.90" stroke="#3a3a3a" stroke-width="1.0"/>
<line x1="33.80" y1="344.40" x2="306.90" y2="344.40" stroke="#3a3a3a" stroke-width="1.0"/>
<line x1="183.30" y1="247.40" x2="198.40" y2="247.40" stroke="#22289a" stroke-width="1.5"/>
<circle cx="190.90" cy="247.40" r="2.0" fill="#2a2ad8"/>
<line x1="183.30" y1="255.20" x2="198.40" y2="255.20" stroke="#9a7c3c" stroke-width="1.4"/>
<circle cx="190.90" cy="255.20" r="1.9" fill="#d0a040"/>
<text font-size="6.95" text-anchor="start" font-weight="bold" fill="#1a1a1a" transform="translate(205.80 249.90)">ATX increase</text>
<text font-size="6.95" text-anchor="start" font-weight="bold" fill="#1a1a1a" transform="translate(205.80 258.40)">no ATX increase</text>
</svg>
</body></html>
